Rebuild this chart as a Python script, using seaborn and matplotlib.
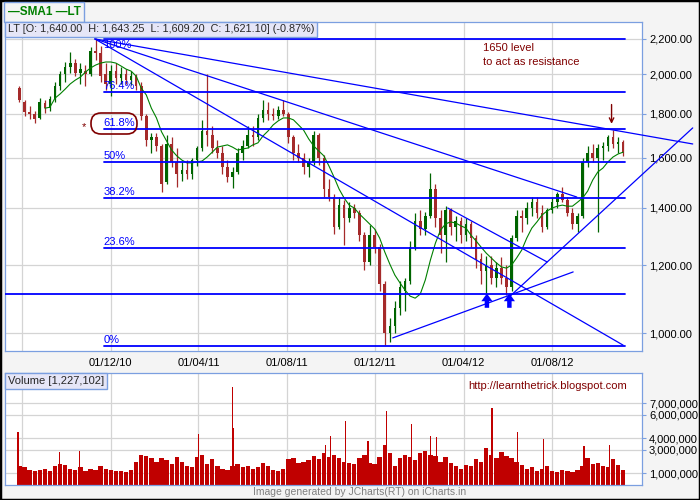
import pandas as pd
import matplotlib
matplotlib.use("Agg")
import matplotlib.pyplot as plt
from matplotlib.patches import FancyBboxPatch, Rectangle
from matplotlib.transforms import IdentityTransform
from matplotlib.ticker import FixedLocator, FuncFormatter, NullLocator
import seaborn as sns

# Weekly candles (LT, Jul 2010 - Nov 2012)
opens = [1930, 1860, 1810, 1800, 1780, 1855, 1830, 1875, 1940, 2000,
         2040, 2060, 2010, 2020, 2000, 2130, 2120, 2000, 1950, 2020,
         1980, 2000, 1970, 1990, 1940, 1790, 1680, 1690, 1650, 1500,
         1660, 1580, 1530, 1550, 1530, 1590, 1640, 1720, 1700, 1640,
         1620, 1560, 1520, 1540, 1620, 1650, 1700, 1690, 1780, 1820,
         1800, 1790, 1820, 1800, 1690, 1620, 1600, 1560, 1580, 1700,
         1600, 1470, 1440, 1330, 1410, 1360, 1400, 1380, 1300, 1210,
         1300, 1260, 1140, 1000, 1020, 1070, 1120, 1150, 1260, 1350,
         1320, 1370, 1470, 1360, 1300, 1390, 1330, 1350, 1300, 1340,
         1290, 1220, 1180, 1200, 1160, 1190, 1160, 1130, 1290, 1370,
         1360, 1400, 1420, 1380, 1330, 1390, 1420, 1450, 1430, 1380,
         1340, 1370, 1580, 1620, 1600, 1640, 1650, 1690, 1660, 1670]
highs = [1940, 1870, 1840, 1815, 1880, 1870, 1890, 1960, 2020, 2070,
         2125, 2085, 2060, 2050, 2150, 2205, 2160, 2060, 2050, 2060,
         2040, 2030, 2020, 2000, 1960, 1800, 1710, 1710, 1660, 1700,
         1690, 1640, 1580, 1590, 1600, 1650, 1770, 2000, 1740, 1680,
         1650, 1590, 1560, 1640, 1680, 1740, 1740, 1800, 1870, 1860,
         1830, 1840, 1870, 1810, 1700, 1660, 1620, 1600, 1720, 1710,
         1610, 1510, 1450, 1440, 1430, 1420, 1415, 1390, 1310, 1335,
         1320, 1270, 1150, 1040, 1090, 1150, 1160, 1280, 1380, 1390,
         1385, 1535, 1490, 1390, 1405, 1400, 1370, 1365, 1360, 1350,
         1300, 1240, 1230, 1230, 1210, 1225, 1200, 1300, 1390, 1390,
         1420, 1440, 1440, 1410, 1400, 1440, 1460, 1480, 1440, 1400,
         1380, 1600, 1650, 1660, 1660, 1670, 1700, 1725, 1690, 1680]
lows = [1860, 1790, 1775, 1755, 1775, 1805, 1815, 1860, 1920, 1960,
        2010, 1990, 1950, 1940, 1990, 2080, 1960, 1920, 1890, 1950,
        1950, 1950, 1945, 1920, 1770, 1650, 1620, 1630, 1460, 1490,
        1560, 1480, 1505, 1510, 1510, 1565, 1630, 1650, 1620, 1600,
        1530, 1500, 1475, 1530, 1590, 1640, 1650, 1680, 1760, 1770,
        1770, 1775, 1790, 1665, 1590, 1580, 1530, 1520, 1570, 1570,
        1440, 1425, 1305, 1320, 1266, 1345, 1360, 1280, 1185, 1200,
        1240, 1120, 968, 975, 1000, 1050, 1060, 1140, 1250, 1300,
        1300, 1360, 1330, 1240, 1210, 1300, 1280, 1273, 1280, 1260,
        1190, 1140, 1113, 1140, 1130, 1140, 1107, 1120, 1280, 1310,
        1340, 1370, 1360, 1310, 1320, 1380, 1400, 1420, 1370, 1320,
        1311, 1360, 1560, 1580, 1310, 1590, 1630, 1640, 1620, 1609]
closes = [1870, 1810, 1800, 1775, 1860, 1830, 1875, 1940, 2000, 2040,
          2060, 2010, 2030, 2000, 2130, 2120, 1990, 1950, 2020, 1980,
          2000, 1970, 1990, 1940, 1790, 1680, 1690, 1650, 1490, 1660,
          1580, 1530, 1550, 1530, 1590, 1640, 1720, 1700, 1640, 1620,
          1560, 1520, 1540, 1620, 1650, 1700, 1690, 1780, 1820, 1800,
          1790, 1820, 1800, 1690, 1620, 1600, 1560, 1580, 1700, 1600,
          1470, 1440, 1330, 1410, 1360, 1400, 1380, 1300, 1210, 1300,
          1260, 1140, 1000, 1020, 1070, 1130, 1150, 1260, 1350, 1320,
          1370, 1470, 1360, 1300, 1390, 1330, 1350, 1300, 1340, 1290,
          1220, 1180, 1200, 1160, 1190, 1160, 1130, 1290, 1370, 1360,
          1400, 1420, 1380, 1330, 1390, 1420, 1450, 1430, 1380, 1340,
          1370, 1580, 1620, 1600, 1640, 1650, 1690, 1660, 1670, 1621]

# SMA1 line, read at the same weekly points (starts at week 5)
sma_start = 5
sma1 = [1827, 1832, 1877, 1898, 1923, 1950, 1970, 1986, 2013, 2035,
        2051, 2062, 2068, 2068, 2062, 2046, 2029, 2018, 1991, 1928,
        1893, 1827, 1780, 1715, 1673, 1633, 1608, 1590, 1578, 1578,
        1582, 1586, 1603, 1624, 1646, 1651, 1656, 1646, 1633, 1638,
        1642, 1656, 1665, 1696, 1719, 1747, 1766, 1780, 1780, 1771,
        1747, 1723, 1683, 1651, 1629, 1608, 1565, 1519, 1471, 1436,
        1409, 1398, 1376, 1358, 1340, 1322, 1290, 1243, 1203, 1168,
        1144, 1122, 1104, 1098, 1110, 1153, 1216, 1273, 1318, 1340,
        1347, 1343, 1333, 1325, 1300, 1280, 1259, 1239, 1223, 1207,
        1194, 1190, 1200, 1223, 1249, 1290, 1325, 1347, 1372, 1387,
        1398, 1405, 1409, 1405, 1405, 1420, 1436, 1463, 1507, 1540,
        1556, 1582, 1603, 1616, 1624]

# typical daily volume per week (millions) and the single-day spikes
volume_m = [1.6, 1.5, 1.3, 1.2, 1.3, 1.4, 1.2, 1.6, 1.8, 1.7,
            1.4, 1.3, 1.5, 1.2, 1.4, 1.3, 1.6, 1.4, 1.3, 1.2,
            1.2, 1.1, 1.3, 2.0, 2.6, 2.5, 2.3, 2.0, 2.3, 2.1,
            1.8, 2.4, 2.0, 1.6, 1.5, 2.4, 2.6, 1.8, 2.2, 1.6,
            1.4, 1.3, 1.6, 1.8, 1.5, 1.6, 1.4, 1.5, 1.9, 1.6,
            1.3, 1.2, 1.4, 2.2, 2.3, 1.9, 2.0, 2.1, 2.5, 2.2,
            2.7, 2.4, 2.6, 2.3, 2.0, 1.9, 1.8, 2.3, 2.6, 1.9,
            1.8, 2.4, 3.4, 2.7, 1.6, 2.3, 2.6, 2.4, 2.1, 2.7,
            2.9, 2.6, 2.5, 2.0, 2.4, 1.9, 1.6, 1.4, 1.7, 1.6,
            2.2, 2.0, 3.2, 2.6, 2.3, 2.8, 2.5, 2.3, 2.0, 1.7,
            1.4, 1.5, 1.2, 1.4, 1.6, 1.2, 1.1, 1.3, 1.2, 1.1,
            1.3, 1.6, 2.3, 1.8, 1.9, 1.6, 1.5, 2.2, 1.7, 1.3]
spike_days = ["2010-07-26", "2010-09-21", "2010-10-19", "2011-04-01", "2011-05-18",
              "2011-05-19", "2011-09-23", "2011-09-30", "2011-10-21", "2011-11-21",
              "2011-12-16", "2012-01-20", "2012-02-15", "2012-02-24", "2012-05-10",
              "2012-06-14", "2012-07-20", "2012-09-14", "2012-10-19"]
spike_vol_m = [4.5, 2.8, 2.9, 4.4, 8.4, 4.9, 3.4, 4.2, 5.5, 3.8,
               6.3, 5.2, 4.2, 4.1, 6.6, 4.5, 3.9, 3.3, 3.4]

# Fibonacci retracement between the Dec-11 low and Nov-10 high
fib_low, fib_high = 966, 2200
fib_ratios = [0.0, 0.236, 0.382, 0.5, 0.618, 0.764, 1.0]
fib_labels = ["0%", "23.6%", "38.2%", "50%", "61.8%", "76.4%", "100%"]
fib_span = ("2010-11-21", "2012-11-09")
support_level = 1110

# hand-drawn trend lines: (start date, price, end date, price, clipped)
trend_lines = [
    ("2010-11-09", 2200, "2013-02-11", 1660, False),
    ("2010-11-09", 2200, "2012-09-04", 1440, True),
    ("2010-11-09", 2200, "2012-11-07", 968, True),
    ("2011-12-25", 987, "2012-08-30", 1178, True),
    ("2012-06-04", 1104, "2013-02-11", 1733, False),
    ("2012-03-10", 1398, "2012-07-25", 1210, True),
]

month_ticks = ["2010-08-01", "2010-12-01", "2011-04-01", "2011-08-01",
               "2011-12-01", "2012-04-01", "2012-08-01"]
month_labels = ["", "01/12/10", "01/04/11", "01/08/11", "01/12/11", "01/04/12", "01/08/12"]
price_ticks = [1000, 1200, 1400, 1600, 1800, 2000, 2200]
volume_ticks = [1e6, 3e6, 4e6, 6e6, 7e6]

UP, DOWN = "#006400", "#a52a2a"
FIB = "#0000ff"
FRAME = "#7b9fe0"
GRID = "#d4d4d4"
MAROON = "#800000"
VOL = "#c00000"

sns.set_theme(style="white")
plt.rcParams["font.family"] = ["Liberation Sans", "DejaVu Sans"]
plt.rcParams["font.size"] = 8

weeks = pd.date_range("2010-07-28", periods=len(closes), freq="7D")
xlim = (pd.Timestamp("2010-07-08"), pd.Timestamp("2012-12-03"))

fig = plt.figure(figsize=(7, 5), dpi=100, facecolor="#f4f4f4")
ax = fig.add_axes([5 / 700, 1 - 351 / 500, 637 / 700, 329 / 500])
axv = fig.add_axes([5 / 700, 1 - 485 / 500, 637 / 700, 112 / 500])

for a in (ax, axv):
    a.set_facecolor("white")
    a.set_xlim(*xlim)
    a.xaxis.set_major_locator(FixedLocator([pd.Timestamp(d).toordinal() - 719163 for d in month_ticks]))
    a.grid(True, color=GRID, lw=0.9)
    a.set_axisbelow(True)
    for s in a.spines.values():
        s.set_color(FRAME)
        s.set_linewidth(0.9)
    a.yaxis.tick_right()
    a.tick_params(axis="both", length=3, width=0.8, color=FRAME, pad=2, labelsize=8,
                  labelcolor="black", direction="out")

# ---- price panel
ax.set_yscale("log")
ax.set_ylim(953, 2302)
ax.yaxis.set_major_locator(FixedLocator(price_ticks))
ax.yaxis.set_minor_locator(NullLocator())
ax.yaxis.set_major_formatter(FuncFormatter(lambda v, p: f"{v:,.2f}"))
ax.set_xticklabels(month_labels)

colors = [UP if c >= o else DOWN for o, c in zip(opens, closes)]
ax.vlines(weeks, lows, highs, colors=colors, lw=0.9, zorder=3)
body_low = [min(o, c) for o, c in zip(opens, closes)]
body_h = [max(abs(c - o), 3) for o, c in zip(opens, closes)]
ax.bar(weeks, body_h, bottom=body_low, width=3.6, color=colors, lw=0, zorder=3)

sns.lineplot(x=weeks[sma_start:], y=sma1, color="#008000", lw=0.8, ax=ax, zorder=4)

fib_x = [pd.Timestamp(d) for d in fib_span]
for r, lab in zip(fib_ratios, fib_labels):
    lvl = fib_low + r * (fib_high - fib_low)
    ax.plot(fib_x, [lvl, lvl], color=FIB, lw=1.3, zorder=5)
    if r < 1:
        ax.text(fib_x[0], lvl * 1.002, lab, color=FIB, fontsize=8, va="bottom", ha="left", zorder=5)
    else:
        # top label sits under the header box in the original; keep it just below its line
        ax.text(fib_x[0], lvl * 0.997, lab, color=FIB, fontsize=8, va="top", ha="left", zorder=5)
ax.plot([xlim[0], fib_x[1]], [support_level, support_level], color=FIB, lw=1.3, zorder=5)

for d0, p0, d1, p1, clip in trend_lines:
    ax.plot([pd.Timestamp(d0), pd.Timestamp(d1)], [p0, p1], color=FIB, lw=0.9,
            zorder=5, clip_on=clip)

for d in ["2012-05-03", "2012-06-03"]:
    ax.annotate("", xy=(pd.Timestamp(d), 1112), xytext=(pd.Timestamp(d), 1070),
                arrowprops=dict(arrowstyle="simple,head_width=1.0,head_length=0.7,tail_width=0.4",
                                color=FIB, lw=0, shrinkA=0, shrinkB=0), zorder=6)
ax.annotate("", xy=(pd.Timestamp("2012-10-22"), 1752), xytext=(pd.Timestamp("2012-10-22"), 1845),
            arrowprops=dict(arrowstyle="->", color=MAROON, lw=1.0, shrinkA=0, shrinkB=0), zorder=6)

ax.text(0.750, 0.935, "1650 level\nto act as resistance", transform=ax.transAxes,
        color=MAROON, fontsize=8, va="top", ha="left", linespacing=1.45)
fig.text(84 / 700, 1 - 127 / 500, "*", color=MAROON, fontsize=8, ha="center", va="center")
fig.add_artist(FancyBboxPatch((91, 500 - 134), 46, 21, boxstyle="round,pad=0,rounding_size=10",
                              transform=IdentityTransform(), fill=False, ec=MAROON, lw=1.2))
ax.set_xlabel("")
ax.set_ylabel("")

# ---- volume panel
axv.set_ylim(0, 9.57e6)
axv.yaxis.set_major_locator(FixedLocator(volume_ticks))
axv.yaxis.set_major_formatter(FuncFormatter(lambda v, p: f"{v:,.0f}"))
axv.set_xticklabels([])
axv.tick_params(axis="x", length=0)
axv.bar(weeks, [v * 1e6 for v in volume_m], width=6.0, color=VOL, lw=0)
axv.bar(pd.to_datetime(spike_days), [v * 1e6 for v in spike_vol_m], width=1.6, color=VOL, lw=0)
axv.text(0.976, 0.88, "http://learnthetrick.blogspot.com", transform=axv.transAxes,
         color=MAROON, fontsize=8, ha="right", va="center")

# ---- header boxes
fig.text(8 / 700, 1 - 12 / 500, "\u2014SMA1 \u2014LT", color="#008000", fontsize=8.5,
         fontweight="bold", va="center",
         bbox=dict(boxstyle="square,pad=0.3", fc="#f4f4f4", ec=FRAME, lw=1))
fig.text(8 / 700, 1 - 29.5 / 500,
         "LT [O: 1,640.00  H: 1,643.25  L: 1,609.20  C: 1,621.10] (-0.87%)",
         fontsize=7.8, va="center", zorder=10,
         bbox=dict(boxstyle="square,pad=0.25", fc="#e6e6f7", ec=FRAME, lw=1))
fig.text(8 / 700, 1 - 381 / 500, "Volume [1,227,102]", fontsize=8, va="center", zorder=10,
         bbox=dict(boxstyle="square,pad=0.25", fc="#e6e6f7", ec=FRAME, lw=1))
fig.text(360 / 700, 1 - 492 / 500, "Image generated by JCharts(RT) on iCharts.in",
         color="#808080", fontsize=7.5, ha="center", va="center")

fig.add_artist(Rectangle((0, 0), 1, 1, transform=fig.transFigure, fill=False,
                         ec="black", lw=2.5))

fig.savefig("out.png", dpi=100, facecolor=fig.get_facecolor())
